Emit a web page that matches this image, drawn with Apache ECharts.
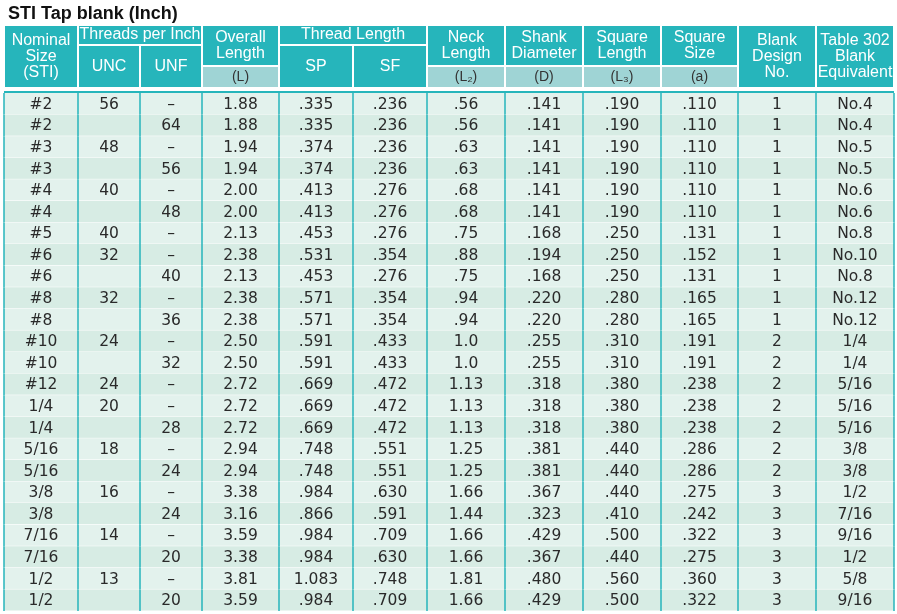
<!DOCTYPE html>
<html>
<head>
<meta charset="utf-8">
<title>STI Tap blank (Inch)</title>
<script src="https://cdn.jsdelivr.net/npm/echarts@6/dist/echarts.min.js"></script>
<style>html,body{margin:0;padding:0;background:#fff}</style>
</head>
<body>
<div id="main" style="width:897px;height:614px;"></div>
<script type="text/javascript">
// table columns
var nominal = ['#2','#2','#3','#3','#4','#4','#5','#6','#6','#8','#8','#10','#10','#12','1/4','1/4','5/16','5/16','3/8','3/8','7/16','7/16','1/2','1/2'];
var unc = ['56','','48','','40','','40','32','','32','','24','','24','20','','18','','16','','14','','13',''];
var unf = ['–','64','–','56','–','48','–','–','40','–','36','–','32','–','–','28','–','24','–','24','–','20','–','20'];
var overall = ['1.88','1.88','1.94','1.94','2.00','2.00','2.13','2.38','2.13','2.38','2.38','2.50','2.50','2.72','2.72','2.72','2.94','2.94','3.38','3.16','3.59','3.38','3.81','3.59'];
var sp = ['.335','.335','.374','.374','.413','.413','.453','.531','.453','.571','.571','.591','.591','.669','.669','.669','.748','.748','.984','.866','.984','.984','1.083','.984'];
var sf = ['.236','.236','.236','.236','.276','.276','.276','.354','.276','.354','.354','.433','.433','.472','.472','.472','.551','.551','.630','.591','.709','.630','.748','.709'];
var neck = ['.56','.56','.63','.63','.68','.68','.75','.88','.75','.94','.94','1.0','1.0','1.13','1.13','1.13','1.25','1.25','1.66','1.44','1.66','1.66','1.81','1.66'];
var shank = ['.141','.141','.141','.141','.141','.141','.168','.194','.168','.220','.220','.255','.255','.318','.318','.318','.381','.381','.367','.323','.429','.367','.480','.429'];
var sqLen = ['.190','.190','.190','.190','.190','.190','.250','.250','.250','.280','.280','.310','.310','.380','.380','.380','.440','.440','.440','.410','.500','.440','.560','.500'];
var sqSize = ['.110','.110','.110','.110','.110','.110','.131','.152','.131','.165','.165','.191','.191','.238','.238','.238','.286','.286','.275','.242','.322','.275','.360','.322'];
var design = ['1','1','1','1','1','1','1','1','1','1','1','2','2','2','2','2','2','2','3','3','3','3','3','3'];
var equiv = ['No.4','No.4','No.5','No.5','No.6','No.6','No.8','No.10','No.8','No.12','No.12','1/4','1/4','5/16','5/16','5/16','3/8','3/8','1/2','7/16','9/16','1/2','5/8','9/16'];
var columns = [nominal, unc, unf, overall, sp, sf, neck, shank, sqLen, sqSize, design, equiv];

// header cells: [firstCol, lastCol+1, top, bottom, text, light]
var headers = [
  [0,1,25,88,'Nominal\nSize\n(STI)',0],
  [1,3,25,45,'Threads per Inch',0],
  [1,2,45,88,'UNC',0],
  [2,3,45,88,'UNF',0],
  [3,4,25,66,'Overall\nLength',0],
  [3,4,66,88,'(L)',1],
  [4,6,25,45,'Thread Length',0],
  [4,5,45,88,'SP',0],
  [5,6,45,88,'SF',0],
  [6,7,25,66,'Neck\nLength',0],
  [6,7,66,88,'(L₂)',1],
  [7,8,25,66,'Shank\nDiameter',0],
  [7,8,66,88,'(D)',1],
  [8,9,25,66,'Square\nLength',0],
  [8,9,66,88,'(L₃)',1],
  [9,10,25,66,'Square\nSize',0],
  [9,10,66,88,'(a)',1],
  [10,11,25,88,'Blank\nDesign\nNo.',0],
  [11,12,25,88,'Table 302\nBlank\nEquivalent',0]
];

var colX = [4,78,140,202,279,353,427,505,583,661,738,816,894];
var bodyTop = 93, bodyBottom = 611;
var rowH = (bodyBottom - bodyTop) / nominal.length;
var teal = '#26b5bb', light = '#9fd4d5';
var font = '"DejaVu Sans", "Liberation Sans", sans-serif';
var headFont = '"Liberation Sans", Arial, sans-serif';

var bodyData = [];
columns.forEach(function (col, c) {
  col.forEach(function (v, r) { bodyData.push([c, r, v]); });
});

var myChart = echarts.init(document.getElementById('main'));
var option = {
  animation: false,
  title: {
    text: 'STI Tap blank (Inch)', left: 3, top: 0,
    textStyle: {fontFamily: headFont, fontSize: 18, fontWeight: 'bold', color: '#111'}
  },
  grid: {left: 0, top: 0, right: 0, bottom: 0},
  xAxis: {type: 'value', min: 0, max: 897, show: false},
  yAxis: {type: 'value', min: 0, max: 614, inverse: true, show: false},
  series: [
    {
      type: 'custom',
      data: headers,
      renderItem: function (params, api) {
        var h = headers[params.dataIndex];
        var p0 = api.coord([colX[h[0]], h[2]]);
        var p1 = api.coord([colX[h[1]], h[3]]);
        return {
          type: 'rect',
          shape: {x: p0[0] + 1, y: p0[1] + 1, width: p1[0] - p0[0] - 2, height: p1[1] - p0[1] - 2},
          style: {
            fill: h[5] ? light : teal,
            text: h[4],
            textFill: h[5] ? '#333' : '#fff',
            fontFamily: headFont,
            fontSize: h[5] ? 14 : 16,
            lineHeight: 13,
            textAlign: 'center',
            textVerticalAlign: 'middle'
          }
        };
      }
    },
    {
      type: 'custom',
      data: bodyData,
      renderItem: function (params, api) {
        var c = api.value(0), r = api.value(1);
        var d = bodyData[params.dataIndex];
        var p0 = api.coord([colX[c], bodyTop + r * rowH]);
        var p1 = api.coord([colX[c + 1], bodyTop + (r + 1) * rowH]);
        var w = p1[0] - p0[0], hh = p1[1] - p0[1];
        var kids = [
          {type: 'rect', shape: {x: p0[0], y: p0[1], width: w, height: hh},
            style: {fill: r % 2 ? '#d7ece4' : '#e3f2ed'}},
          {type: 'line', shape: {x1: p0[0], y1: p1[1], x2: p1[0], y2: p1[1]},
            style: {stroke: '#ffffff', lineWidth: 1}},
          {type: 'line', shape: {x1: p0[0], y1: p0[1], x2: p0[0], y2: p1[1]},
            style: {stroke: teal, lineWidth: 1.5}},
          {type: 'text', x: p0[0] + w / 2, y: p0[1] + hh / 2 + 1,
            style: {text: d[2], fill: '#2a2a2a', font: '15.5px ' + font, align: 'center', verticalAlign: 'middle'}}
        ];
        if (c === columns.length - 1) {
          kids.push({type: 'line', shape: {x1: p1[0], y1: p0[1], x2: p1[0], y2: p1[1]},
            style: {stroke: teal, lineWidth: 1.5}});
        }
        if (r === 0) {
          kids.push({type: 'line', shape: {x1: p0[0], y1: p0[1] - 1, x2: p1[0], y2: p0[1] - 1},
            style: {stroke: teal, lineWidth: 2}});
        }
        return {type: 'group', children: kids};
      }
    }
  ]
};
myChart.setOption(option);
</script>
</body>
</html>
